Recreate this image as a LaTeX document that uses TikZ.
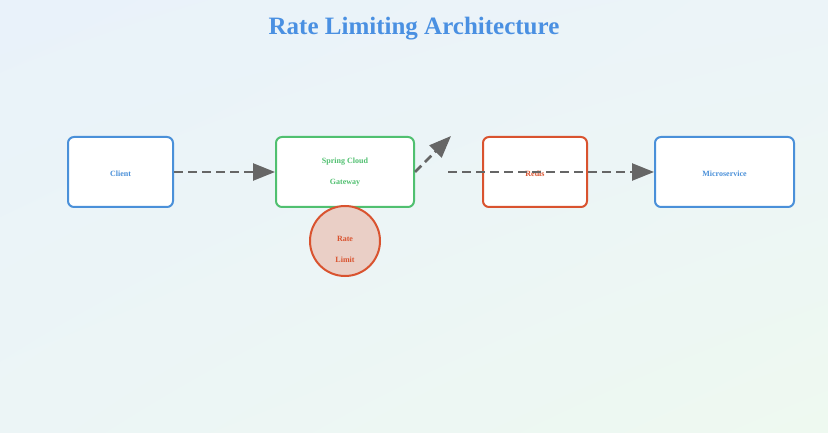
\documentclass[tikz,border=0pt]{standalone}
\usepackage{fontspec}
\setmainfont{Liberation Serif}
\usetikzlibrary{arrows.meta,shadings}
\definecolor{titleblue}{HTML}{4A90E2}
\definecolor{boxblue}{HTML}{4A90D9}
\definecolor{boxgreen}{HTML}{50C070}
\definecolor{boxred}{HTML}{D9532F}
\definecolor{limitfill}{HTML}{EACFC6}
\definecolor{arrowgray}{HTML}{666666}
\definecolor{bgul}{RGB}{233,242,250}
\definecolor{bgur}{RGB}{236,244,248}
\definecolor{bgll}{RGB}{236,245,246}
\definecolor{bglr}{RGB}{238,249,240}
\tikzset{
    comp/.style={draw=#1, text=#1, line width=2pt, rounded corners=6pt, fill=white, minimum height=70pt,
        font=\fontsize{8}{21}\selectfont\bfseries, align=center,
        execute at begin node={\rule{0pt}{9.3pt}}},
    flow/.style={arrowgray, line width=2.5pt, dash pattern=on 9pt off 5pt,
        -{Triangle[length=22pt,width=17pt]}}
}

\begin{document}
\begin{tikzpicture}[x=1pt,y=-1pt]
    \shade[upper left=bgul, upper right=bgur, lower left=bgll, lower right=bglr]
        (0,0) rectangle (828,433);
    \useasboundingbox (0,0) rectangle (828,433);

    \node[text=titleblue, font=\fontsize{25}{30}\selectfont\bfseries] (title) at (414,28.5) {Rate Limiting Architecture};

    \node[comp=boxblue, minimum width=105pt] (client) at (120.5,172) {Client};
    \node[comp=boxgreen, minimum width=138pt] (gateway) at (345,172) {Spring Cloud\\Gateway};
    \node[draw=boxred, fill=limitfill, line width=2pt, circle, minimum size=70pt,
        label={[text=boxred, font=\fontsize{8}{21}\selectfont\bfseries, align=center, yshift=-8pt]center:Rate\\Limit}]
        (limit) at (345,241) {};
    \node[comp=boxred, minimum width=104pt] (redis) at (535,172) {Redis};
    \node[comp=boxblue, minimum width=139pt] (micro) at (724.5,172) {Microservice};

    \coordinate (up) at (451,136);
    \coordinate (start) at (448,172);

    \draw[flow] (client) -- (gateway);
    \draw[flow] (gateway.east) -- (up);
    \draw[flow] (start) -- (micro);
\end{tikzpicture}
\end{document}
